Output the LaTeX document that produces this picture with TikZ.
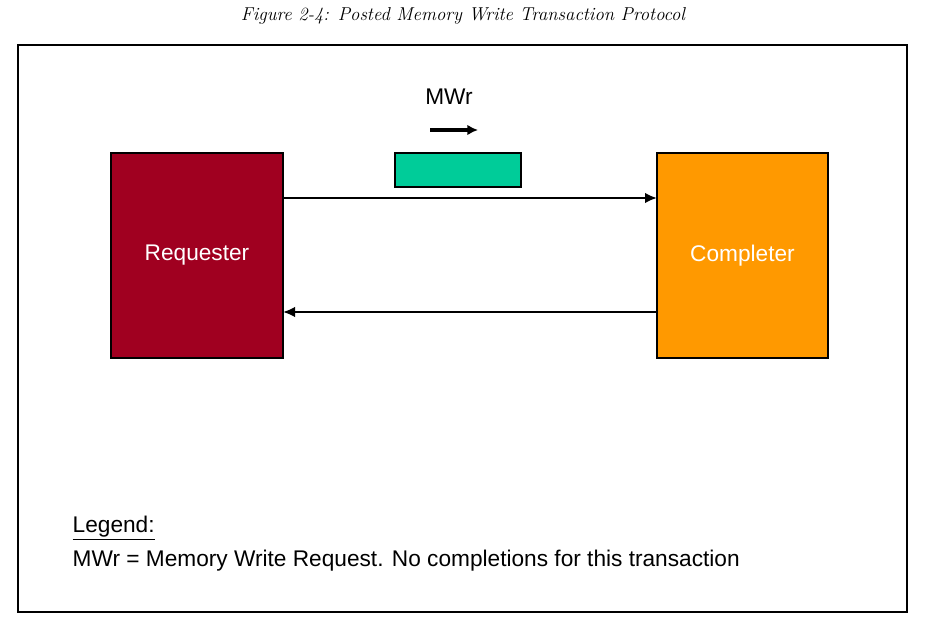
\documentclass[tikz,border=0pt]{standalone}
\usepackage{fontspec}
\setsansfont{Liberation Sans}
\usetikzlibrary{arrows.meta}
\definecolor{req}{HTML}{A00020}
\definecolor{cmp}{HTML}{FF9900}
\definecolor{pkt}{HTML}{00CC99}
\begin{document}
\begin{tikzpicture}[x=0.75pt,y=-0.75pt,
  box/.style={draw=black,line width=2pt,inner sep=0,outer sep=0},
  lbl/.style={font=\sffamily\fontsize{17}{20}\selectfont},
  conn/.style={line width=2.2pt,-{Latex[length=9pt,width=8pt]}}]
\useasboundingbox (0,0) rectangle (934,627);
\node[font=\itshape\fontsize{14}{16}\selectfont] (cap) at (463,16) {Figure 2-4: Posted Memory Write Transaction Protocol};
\draw[line width=1.2pt] (18,45) rectangle (907,612);
\node[box,fill=req,minimum width=172*0.75pt,minimum height=205*0.75pt,lbl,text=white] (R) at (197,255.5) {Requester};
\node[box,fill=cmp,minimum width=171*0.75pt,minimum height=205*0.75pt,lbl,text=white] (C) at (742.5,255.5) {Completer};
\node[box,fill=pkt,minimum width=126*0.75pt,minimum height=34*0.75pt] (P) at (458,170) {};
\node[lbl] (M) at (449,97) {MWr};
\coordinate (a1) at (430,130); \coordinate (a2) at (478,130);
\draw[line width=2.5pt,-{Latex[length=8pt,width=8pt]}] (a1) -- (a2);
\draw[conn] (R.east |- 0,198) -- (C.west |- 0,198);
\draw[conn] (C.west |- 0,312) -- (R.east |- 0,312);
\node[lbl,anchor=west] (L1) at (68,528) {\underline{Legend:}};
\node[lbl,anchor=west] (L2) at (68,561) {MWr = Memory Write Request. No completions for this transaction};
\end{tikzpicture}
\end{document}
